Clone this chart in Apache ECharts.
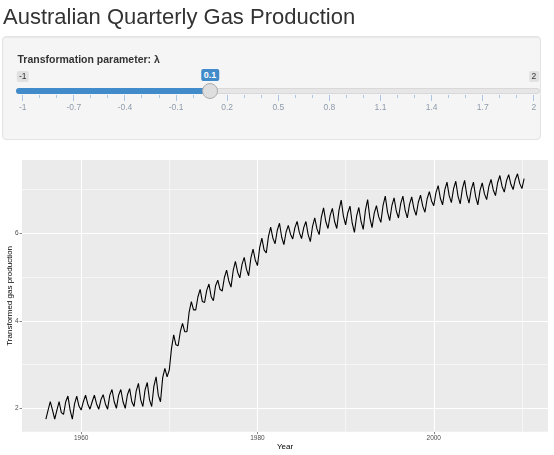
<!DOCTYPE html>
<html>
<head>
<meta charset="utf-8">
<script src="https://cdn.jsdelivr.net/npm/echarts@6/dist/echarts.min.js"></script>
<style>
html,body{margin:0;padding:0;background:#fff;width:554px;height:455px;overflow:hidden;font-family:"Liberation Sans",Arial,Helvetica,sans-serif;}
#chart{position:absolute;left:0;top:0;width:554px;height:455px;}
#ui{position:absolute;left:0;top:0;width:554px;height:150px;z-index:2;}
.abs{position:absolute;white-space:nowrap;}
.title{left:3px;top:6.4px;font-size:22px;line-height:22px;color:#333;}
.well{left:2px;top:36px;width:539px;height:104px;background:#f5f5f5;border:1px solid #e3e3e3;border-radius:4px;box-sizing:border-box;box-shadow:inset 0 1px 1px rgba(0,0,0,.05);}
.lab{left:17.5px;top:53.8px;font-size:10.5px;line-height:10.5px;font-weight:bold;color:#333;}
.track{left:16px;top:88.3px;width:524px;height:6px;border-radius:3px;background:#e6e6e6;border:1px solid #d8d8d8;box-sizing:border-box;}
.fill{left:16px;top:88.3px;height:6px;border-radius:3px 0 0 3px;background:#428bca;}
.handle{width:16px;height:16px;border-radius:50%;background:#dedede;border:1px solid #ababab;box-sizing:border-box;}
.box{font-size:8.5px;line-height:10.5px;height:10.5px;padding:0 2.5px;border-radius:2px;transform:translateX(-50%);}
.minmax{background:#e1e1e1;color:#333;}
.cur{background:#428bca;color:#fff;font-weight:bold;font-size:9px;line-height:12px;height:12px;}
.tick{width:1px;background:#a9c6e4;}
.gtext{font-size:8.5px;line-height:8.5px;color:#8f9cab;transform:translate(-50%,-50%);}
</style>
</head>
<body>
<div id="chart"></div>
<div id="ui">
  <div class="abs title">Australian Quarterly Gas Production</div>
  <div class="abs well"></div>
  <div class="abs lab">Transformation parameter: λ</div>
</div>
<script>
// ---- data (Box-Cox transformed quarterly gas production, lambda = 0.1) ----
const startYear = 1956;           // first observation: 1956 Q1
const quartersPerYear = 4;
const gas1950s = [
  1.75, 1.96, 2.15, 1.96,
  1.75, 1.96, 2.15, 1.90,
  1.86, 2.15, 2.28, 1.96,
  1.75, 2.10, 2.28, 2.05
];
const gas1960s = [
  1.96, 2.15, 2.30, 2.10,
  1.98, 2.15, 2.30, 2.10,
  1.98, 2.20, 2.31, 2.10,
  1.98, 2.30, 2.43, 2.15,
  2.00, 2.30, 2.43, 2.15,
  2.00, 2.31, 2.45, 2.15,
  2.04, 2.40, 2.57, 2.20,
  2.04, 2.42, 2.59, 2.20,
  2.04, 2.50, 2.72, 2.30,
  2.15, 2.70, 2.91, 2.72
];
const gas1970s = [
  2.88, 3.37, 3.68, 3.45,
  3.43, 3.75, 3.94, 3.75,
  3.75, 4.20, 4.44, 4.25,
  4.25, 4.55, 4.72, 4.44,
  4.42, 4.70, 4.84, 4.55,
  4.46, 4.80, 4.93, 4.72,
  4.68, 4.99, 5.16, 4.91,
  4.77, 5.15, 5.36, 5.11,
  4.98, 5.29, 5.45, 5.18,
  5.03, 5.43, 5.64, 5.39
];
const gas1980s = [
  5.26, 5.67, 5.89, 5.62,
  5.55, 5.93, 6.14, 5.89,
  5.76, 6.07, 6.23, 5.91,
  5.74, 6.03, 6.18, 5.98,
  5.87, 6.13, 6.27, 6.02,
  5.88, 6.13, 6.27, 5.97,
  5.81, 6.16, 6.35, 6.10,
  5.97, 6.37, 6.58, 6.27,
  6.11, 6.41, 6.57, 6.27,
  6.11, 6.53, 6.76, 6.39
];
const gas1990s = [
  6.19, 6.47, 6.62, 6.23,
  6.02, 6.39, 6.59, 6.27,
  6.09, 6.53, 6.77, 6.35,
  6.13, 6.46, 6.63, 6.38,
  6.25, 6.64, 6.85, 6.49,
  6.29, 6.63, 6.81, 6.51,
  6.35, 6.68, 6.85, 6.53,
  6.35, 6.66, 6.83, 6.56,
  6.41, 6.71, 6.87, 6.62,
  6.48, 6.79, 6.95, 6.74
];
const gas2000s = [
  6.63, 6.93, 7.09, 6.80,
  6.65, 6.99, 7.17, 6.86,
  6.70, 7.02, 7.19, 6.85,
  6.67, 7.02, 7.21, 6.87,
  6.69, 7.00, 7.17, 6.84,
  6.65, 6.98, 7.15, 6.90,
  6.77, 7.07, 7.23, 6.99,
  6.86, 7.16, 7.32, 7.07,
  6.94, 7.20, 7.34, 7.12,
  7.00, 7.23, 7.36, 7.14,
  7.02, 7.25
];
const xTicks = [1960, 1980, 2000];
const xMinorTicks = [1970, 1990, 2010];
const yTicks = [2, 4, 6];
const yMinorTicks = [3, 5, 7];
const xTitle = 'Year';
const yTitle = 'Transformed gas production';

// ---- slider (UI) ----
const sliderMin = -1, sliderMax = 2, sliderValue = 0.1;
const sliderLabels = [-1, -0.7, -0.4, -0.1, 0.2, 0.5, 0.8, 1.1, 1.4, 1.7, 2];

(function buildSlider(){
  const ui = document.getElementById('ui');
  const x0 = 22.7, pxPerUnit = 170.4;
  const sx = v => x0 + (v - sliderMin) * pxPerUnit;
  function el(cls, style, text){
    const d = document.createElement('div');
    d.className = 'abs ' + cls;
    Object.assign(d.style, style);
    if (text !== undefined) d.textContent = text;
    ui.appendChild(d);
    return d;
  }
  el('track', {});
  el('fill', {width: (sx(sliderValue) - 16) + 'px'});
  for (let i = 0; i <= 30; i++) {
    const v = sliderMin + i * 0.1;
    const major = i % 3 === 0;
    el('tick', {left: (sx(v) - 0.5) + 'px', top: '95px', height: (major ? 5.5 : 3) + 'px'});
  }
  sliderLabels.forEach(v => el('gtext', {left: sx(v) + 'px', top: '106.7px'}, String(v)));
  el('box minmax', {left: sx(sliderMin) + 'px', top: '71px'}, String(sliderMin));
  el('box minmax', {left: sx(sliderMax) + 'px', top: '71px'}, String(sliderMax));
  el('box cur', {left: sx(sliderValue) + 'px', top: '69px'}, String(sliderValue));
  el('handle', {left: (sx(sliderValue) - 8) + 'px', top: '83px'});
})();

// ---- chart ----
const values = [].concat(gas1950s, gas1960s, gas1970s, gas1980s, gas1990s, gas2000s);
const seriesData = values.map((v, i) => [startYear + i / quartersPerYear, v]);

const chart = echarts.init(document.getElementById('chart'), null, {renderer: 'canvas'});
const font = '"Liberation Sans", Arial, Helvetica, sans-serif';
const gridLines = []
  .concat(xTicks.map(v => ({xAxis: v, lineStyle: {width: 1.1}})))
  .concat(xMinorTicks.map(v => ({xAxis: v, lineStyle: {width: 0.55}})))
  .concat(yTicks.map(v => ({yAxis: v, lineStyle: {width: 1.1}})))
  .concat(yMinorTicks.map(v => ({yAxis: v, lineStyle: {width: 0.55}})));

const gridBox = {left: 22, top: 160, right: 6, bottom: 23.3};

chart.setOption({
  animation: false,
  textStyle: {fontFamily: font},
  grid: Object.assign({
    containLabel: false, outerBoundsMode: 'none',
    show: true, backgroundColor: '#ebebeb', borderWidth: 0
  }, gridBox),
  graphic: [
    {
      type: 'text', x: 10, y: 160 + (455 - 23.3 - 160) / 2, rotation: Math.PI / 2, silent: true,
      style: {text: yTitle, fontSize: 8, fill: '#000', fontFamily: font, align: 'center', verticalAlign: 'middle'}
    },
    {
      type: 'text', x: 22 + (554 - 6 - 22) / 2, y: 447, silent: true,
      style: {text: xTitle, fontSize: 8, fill: '#000', fontFamily: font, align: 'center', verticalAlign: 'middle'}
    }
  ],
  xAxis: {
    type: 'value', min: 1953.29, max: 2012.96,
    axisLine: {show: false},
    axisTick: {show: true, customValues: xTicks, length: 2.5, lineStyle: {color: '#333', width: 0.6}},
    axisLabel: {customValues: xTicks, fontSize: 6.5, color: '#4d4d4d', margin: 3.5, fontFamily: font, formatter: v => String(v)},
    splitLine: {show: false}
  },
  yAxis: {
    type: 'value', min: 1.465, max: 7.675,
    axisLine: {show: false},
    axisTick: {show: true, customValues: yTicks, length: 2.5, lineStyle: {color: '#333', width: 0.6}},
    axisLabel: {customValues: yTicks, fontSize: 6.5, color: '#4d4d4d', margin: 3.5, fontFamily: font, formatter: v => String(v)},
    splitLine: {show: false}
  },
  series: [
    {
      type: 'line', data: [], z: 1, silent: true,
      markLine: {
        silent: true, symbol: ['none', 'none'], label: {show: false},
        lineStyle: {color: '#ffffff', type: 'solid'},
        emphasis: {disabled: true},
        data: gridLines
      }
    },
    {
      type: 'line', data: seriesData, z: 5, showSymbol: false, symbol: 'none',
      lineStyle: {color: '#000', width: 1.1}, silent: true
    }
  ]
});
</script>
</body>
</html>
